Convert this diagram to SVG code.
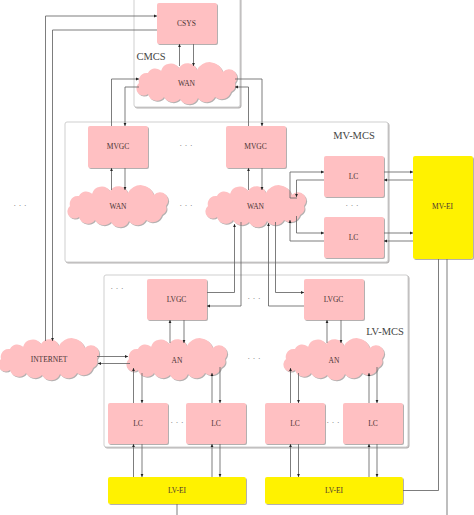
<svg xmlns="http://www.w3.org/2000/svg" width="474" height="515" viewBox="0 0 474 515">
<style>
text{font-family:"Liberation Serif","Times New Roman",serif;fill:#4a3434;text-anchor:middle}
.n{font-size:7.5px}.t{font-size:10.500px;fill:#444}.d{font-size:9px;fill:#777}
.f{fill:#fff;stroke:#cfcfcf;stroke-width:1;filter:url(#s)}
.p{fill:#ffc0c2;filter:url(#s)}.y{fill:#fff200;filter:url(#s)}
.c{fill:none;stroke:#666;stroke-width:.85}
.a{marker-end:url(#h)}
</style>
<defs>
<filter id="s" x="-10%" y="-10%" width="125%" height="125%"><feDropShadow dx="1" dy="1" stdDeviation=".3" flood-color="#b4b0b0"/></filter>
<marker id="h" markerUnits="userSpaceOnUse" markerWidth="4" markerHeight="4" refX="3" refY="2" orient="auto"><path d="M0,.6L3,2L0,3.400Z" fill="#222"/></marker>
<path id="cl" d="M-48,0A8,8 0 0 1-39,-10A8,8 0 0 1-26,-12A10,10 0 0 1-8,-15A10,10 0 0 1 10,-13A14,14 0 0 1 36,-11A8,8 0 0 1 48,0A7,7 0 0 1 44,9A10,10 0 0 1 28,14A10,10 0 0 1 11,15A10,10 0 0 1-7,16A10,10 0 0 1-23,14A9,9 0 0 1-39,11A7,7 0 0 1-48,0Z"/>
</defs>
<g id="frames">
<rect id="cmcs" class="f" x="134" y="-10" width="106" height="117" rx="2"/>
<rect id="mvmcs" class="f" x="65" y="122" width="323" height="140" rx="2"/>
<rect id="lvmcs" class="f" x="104" y="275" width="304" height="172" rx="2"/>
<text class="t" x="151" y="60">CMCS</text>
<text class="t" x="354" y="139">MV-MCS</text>
<text class="t" x="385" y="335">LV-MCS</text>
</g>
<g id="csys"><rect class="p" x="157" y="3" width="60" height="41" rx="2"/><text class="n" x="186.500" y="26">CSYS</text></g>
<g id="wan0"><use href="#cl" class="p" x="187" y="83"/><text class="n" x="186.500" y="86">WAN</text></g>
<g id="mvgc1"><rect class="p" x="88" y="126" width="60" height="42" rx="2"/><text class="n" x="118" y="149">MVGC</text></g>
<g id="mvgc2"><rect class="p" x="226" y="126" width="60" height="42" rx="2"/><text class="n" x="255.500" y="149">MVGC</text></g>
<g id="wan1"><use href="#cl" class="p" x="118" y="206"/><text class="n" x="118" y="209">WAN</text></g>
<g id="wan2"><use href="#cl" class="p" x="256" y="206"/><text class="n" x="255.500" y="209">WAN</text></g>
<g id="lcm1"><rect class="p" x="324" y="156" width="60" height="41" rx="2"/><text class="n" x="353.500" y="179">LC</text></g>
<g id="lcm2"><rect class="p" x="324" y="217" width="60" height="41" rx="2"/><text class="n" x="353.500" y="240">LC</text></g>
<g id="mvei"><rect class="y" x="413" y="156" width="60" height="103" rx="2"/><text class="n" x="442.500" y="209">MV-EI</text></g>
<g id="lvgc1"><rect class="p" x="147" y="279" width="60" height="41" rx="2"/><text class="n" x="176.500" y="302">LVGC</text></g>
<g id="lvgc2"><rect class="p" x="304" y="279" width="60" height="41" rx="2"/><text class="n" x="333.500" y="302">LVGC</text></g>
<g id="internet"><use href="#cl" class="p" x="49" y="359"/><text class="n" x="49" y="362">INTERNET</text></g>
<g id="an1"><use href="#cl" class="p" x="177" y="359"/><text class="n" x="177" y="363">AN</text></g>
<g id="an2"><use href="#cl" class="p" x="334" y="359"/><text class="n" x="334" y="363">AN</text></g>
<g id="lc1"><rect class="p" x="108" y="403" width="60" height="41" rx="2"/><text class="n" x="138" y="426">LC</text></g>
<g id="lc2"><rect class="p" x="186" y="403" width="60" height="41" rx="2"/><text class="n" x="216" y="426">LC</text></g>
<g id="lc3"><rect class="p" x="265" y="403" width="60" height="41" rx="2"/><text class="n" x="295" y="426">LC</text></g>
<g id="lc4"><rect class="p" x="343" y="403" width="60" height="41" rx="2"/><text class="n" x="373" y="426">LC</text></g>
<g id="lvei1"><rect class="y" x="108" y="477" width="138" height="27" rx="2"/><text class="n" x="177" y="493">LV-EI</text></g>
<g id="lvei2"><rect class="y" x="265" y="477" width="138" height="27" rx="2"/><text class="n" x="334" y="493">LV-EI</text></g>
<g id="dots">
<text class="d" x="20" y="208">· · ·</text><text class="d" x="186" y="148">· · ·</text><text class="d" x="186" y="208">· · ·</text>
<text class="d" x="352" y="208">· · ·</text><text class="d" x="117" y="291">· · ·</text><text class="d" x="254" y="301">· · ·</text>
<text class="d" x="254" y="361">· · ·</text><text class="d" x="177" y="425">· · ·</text><text class="d" x="333" y="425">· · ·</text>
</g>
<g id="connectors" class="c">
<path class="a" d="M45.500,341V16H157"/><path class="a" d="M157,30H52.500V341"/>
<path class="a" d="M179.500,66V44"/><path class="a" d="M193.500,44V66"/>
<path class="a" d="M111.500,126V79H139"/><path class="a" d="M139,87H125V126"/>
<path class="a" d="M248.500,126V87H235"/><path class="a" d="M235,79H262V126"/>
<path class="a" d="M111.500,190V168"/><path class="a" d="M125,168V190"/>
<path class="a" d="M248.500,190V168"/><path class="a" d="M262,168V190"/>
<path class="a" d="M297,198H290V172H324"/><path class="a" d="M324,180H296.500V197"/>
<path class="a" d="M296.500,216V233H324"/><path class="a" d="M324,241H290V220"/>
<path class="a" d="M384,172H413"/><path class="a" d="M413,180H384"/>
<path class="a" d="M384,233H413"/><path class="a" d="M413,241H384"/>
<path class="a" d="M207,292.500H234.500V224"/><path class="a" d="M241,222V306H207"/>
<path class="a" d="M304,306H268.500V223"/><path class="a" d="M275.500,222V292.500H304"/>
<path class="a" d="M170,343V320"/><path class="a" d="M184,320V343"/>
<path class="a" d="M327,343V320"/><path class="a" d="M341,320V343"/>
<path class="a" d="M97,356.500H128"/><path class="a" d="M130,363.500H98"/>
<path class="a" d="M133.500,403V368"/><path class="a" d="M142,373V403"/>
<path class="a" d="M212,403V373"/><path class="a" d="M220,367V403"/>
<path class="a" d="M290.500,403V368"/><path class="a" d="M298.500,373V403"/>
<path class="a" d="M369,403V373"/><path class="a" d="M377,367V403"/>
<path class="a" d="M133.500,477V444"/><path class="a" d="M142,444V477"/>
<path class="a" d="M212,477V444"/><path class="a" d="M220,444V477"/>
<path class="a" d="M290.500,477V444"/><path class="a" d="M298.500,444V477"/>
<path class="a" d="M369,477V444"/><path class="a" d="M377,444V477"/>
<path d="M403,490.500H438.500V259"/><path d="M447,259V515"/><path d="M177,504V515"/>
</g>
</svg>
